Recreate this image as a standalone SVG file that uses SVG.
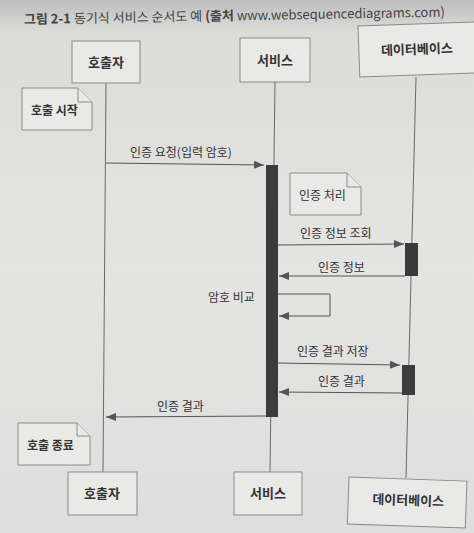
<svg xmlns="http://www.w3.org/2000/svg" width="474" height="533" viewBox="0 0 474 533">
<defs>
<linearGradient id="bg" x1="0" y1="0" x2="0" y2="1">
<stop offset="0" stop-color="#bdbdbd"/>
<stop offset="0.06" stop-color="#dcdcda"/>
<stop offset="0.5" stop-color="#e4e4e2"/>
<stop offset="1" stop-color="#dedede"/>
</linearGradient>
<marker id="ah" viewBox="0 0 10 10" refX="10" refY="5" markerWidth="10" markerHeight="10" markerUnits="userSpaceOnUse" orient="auto">
<path d="M0,1 L10,5 L0,9 Z" fill="#555"/>
</marker>
<style>
.box{fill:#e9e9e7;stroke:#8a8a8a;stroke-width:1}
.life{stroke:#6a6a6a;stroke-width:1;fill:none}
.act{fill:#3b3b3b}
.msg{stroke:#555;stroke-width:1;fill:none;marker-end:url(#ah)}
.actor{font-family:"Noto Sans CJK KR",sans-serif;font-size:13px;font-weight:bold;fill:#333;text-anchor:middle}
.lbl{font-family:"Noto Sans CJK KR",sans-serif;font-size:12px;fill:#333}
.note{fill:#e9e9e7;stroke:#8a8a8a;stroke-width:1}
.notet{font-family:"Noto Sans CJK KR",sans-serif;font-size:12px;font-weight:bold;fill:#333}
</style>
</defs>
<rect width="474" height="533" fill="url(#bg)"/>
<text x="24" y="24" font-family="Noto Sans CJK KR, sans-serif" font-size="13" fill="#444" transform="rotate(-1 24 24)"><tspan font-weight="bold">그림 2-1</tspan> 동기식 서비스 순서도 예 <tspan font-weight="bold">(출처</tspan> www.websequencediagrams.com)</text>

<g id="connectors">
<line class="life" x1="106" y1="83" x2="103" y2="472"/>
<line class="life" x1="275" y1="82" x2="270" y2="472"/>
<line class="life" x1="416" y1="77" x2="406" y2="478"/>
<path class="msg" d="M106,163 L264,165"/>
<text class="lbl" x="130" y="157">인증 요청(입력 암호)</text>
<path class="msg" d="M278,245 L404,244"/>
<text class="lbl" x="300" y="238">인증 정보 조회</text>
<path class="msg" d="M405,276 L279,276"/>
<text class="lbl" x="318" y="272">인증 정보</text>
<path class="msg" d="M278,294 L330,294 L330,316 L279,316"/>
<text class="lbl" x="208" y="302">암호 비교</text>
<path class="msg" d="M277,363 L400,365"/>
<text class="lbl" x="297" y="356">인증 결과 저장</text>
<path class="msg" d="M402,393 L279,392"/>
<text class="lbl" x="318" y="386">인증 결과</text>
<path class="msg" d="M268,416 L106,417"/>
<text class="lbl" x="157" y="411">인증 결과</text>
</g>

<g id="activations">
<rect class="act" x="266" y="165" width="12" height="252"/>
<rect class="act" x="405" y="243" width="13" height="33"/>
<rect class="act" x="402" y="365" width="13" height="30"/>
</g>

<g id="caller-top"><rect class="box" x="72" y="41" width="68" height="42"/><text class="actor" x="106" y="67">호출자</text></g>
<g id="service-top"><rect class="box" x="240" y="38" width="70" height="44"/><text class="actor" x="275" y="65">서비스</text></g>
<g id="db-top"><rect class="box" x="358" y="26" width="120" height="51" transform="rotate(-2 358 26)"/><text class="actor" x="417" y="54" transform="rotate(-2 417 54)">데이터베이스</text></g>

<g id="note-start"><path class="note" d="M22,88 L78,88 L92,102 L92,130 L22,130 Z"/><path class="note" d="M78,88 L78,102 L92,102" fill="none"/><text class="notet" x="31" y="115">호출 시작</text></g>
<g id="note-auth"><path class="note" d="M290,173 L347,173 L361,187 L361,215 L290,215 Z"/><path class="note" d="M347,173 L347,187 L361,187" fill="none"/><text class="lbl" x="299" y="200">인증 처리</text></g>
<g id="note-end"><path class="note" d="M18,423 L77,423 L90,436 L90,465 L18,465 Z"/><path class="note" d="M77,423 L77,436 L90,436" fill="none"/><text class="notet" x="27" y="450">호출 종료</text></g>

<g id="caller-bottom"><rect class="box" x="68" y="472" width="69" height="43"/><text class="actor" x="102" y="498">호출자</text></g>
<g id="service-bottom"><rect class="box" x="234" y="472" width="68" height="43"/><text class="actor" x="268" y="498">서비스</text></g>
<g id="db-bottom"><rect class="box" x="349" y="477" width="118" height="47" transform="rotate(2 349 477)"/><text class="actor" x="408" y="505" transform="rotate(2 408 505)">데이터베이스</text></g>
</svg>
